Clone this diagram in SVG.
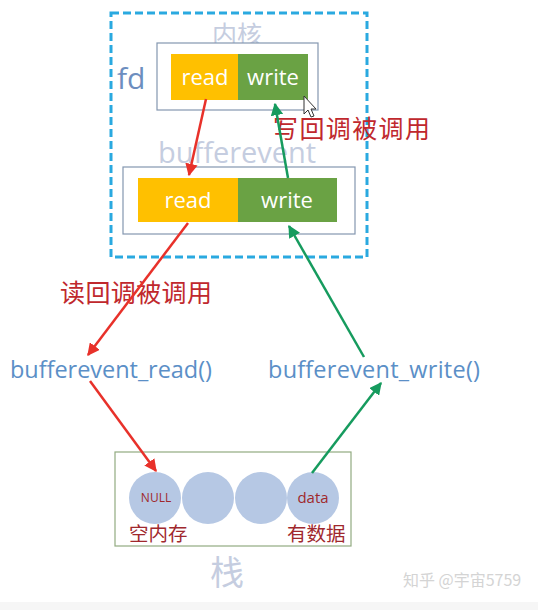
<svg xmlns="http://www.w3.org/2000/svg" width="538" height="610" viewBox="0 0 538 610">
<defs>
<marker id="ar" viewBox="0 0 10 10" refX="9" refY="5" markerWidth="5" markerHeight="5" orient="auto" markerUnits="strokeWidth"><path d="M0,0L10,5L0,10z" fill="#e8312a"/></marker>
<marker id="ag" viewBox="0 0 10 10" refX="9" refY="5" markerWidth="5" markerHeight="5" orient="auto" markerUnits="strokeWidth"><path d="M0,0L10,5L0,10z" fill="#169b5e"/></marker>
<style>
text{font-family:"Open Sans","Noto Sans","Noto Sans CJK SC",sans-serif}
.cjk{font-family:"Noto Sans CJK SC",sans-serif}
.box{fill:#ffffff;stroke:#8497b0;stroke-width:1.2}
.y{fill:#ffc000}
.g{fill:#6aa244}
.wt{fill:#ffffff;font-size:22px;text-anchor:middle}
.lbl{fill:#c5cde0}
.red{fill:#c0282d;font-size:25px}
.fn{fill:#5b8fc7;font-size:23.5px}
.r{stroke:#e8312a;stroke-width:2.5;fill:none;marker-end:url(#ar)}
.gr{stroke:#169b5e;stroke-width:2.5;fill:none;marker-end:url(#ag)}
.c{fill:#b6c8e4}
</style>
</defs>
<rect width="538" height="610" fill="#ffffff"/>
<rect x="0" y="602" width="538" height="8" fill="#f6f6f6"/>
<rect x="111" y="13" width="256" height="244" fill="none" stroke="#2aa9e0" stroke-width="3" stroke-dasharray="8,4"/>
<g id="kernel">
<text class="lbl cjk" x="237" y="44" font-size="25" text-anchor="middle">内核</text>
<text x="117" y="89" font-size="30" fill="#6d8ebf">fd</text>
<rect class="box" x="157" y="43" width="161" height="67"/>
<rect class="y" x="171" y="54" width="67" height="46"/>
<rect class="g" x="238" y="54" width="70" height="46"/>
<text class="wt" x="205" y="85">read</text>
<text class="wt" x="273" y="85">write</text>
<path d="M304,96 L304,114 L308,110 L311,117 L314,116 L311,109 L316,109 Z" fill="#ffffff" stroke="#333333" stroke-width="1"/>
</g>
<g id="bufferevent">
<text class="lbl" x="237" y="163" font-size="29" text-anchor="middle" textLength="158">bufferevent</text>
<rect class="box" x="123" y="167" width="232" height="67"/>
<rect class="y" x="138" y="178" width="100" height="44"/>
<rect class="g" x="238" y="178" width="99" height="44"/>
<text class="wt" x="188" y="208">read</text>
<text class="wt" x="287" y="208">write</text>
</g>
<g id="labels">
<text class="red cjk" x="273" y="138" textLength="157">写回调被调用</text>
<text class="red cjk" x="60" y="302" textLength="152">读回调被调用</text>
<text class="fn" x="10" y="378" textLength="202">bufferevent_read()</text>
<text class="fn" x="268" y="378" textLength="212">bufferevent_write()</text>
</g>
<g id="stack">
<rect x="115" y="452" width="236" height="94" fill="#ffffff" stroke="#92ab80" stroke-width="1.2"/>
<circle class="c" cx="155" cy="498" r="26"/>
<circle class="c" cx="208" cy="498" r="26"/>
<circle class="c" cx="261" cy="498" r="26"/>
<circle class="c" cx="313" cy="498" r="26"/>
<text x="156" y="502" font-size="12" fill="#a0282d" text-anchor="middle">NULL</text>
<text x="313" y="503" font-size="15" fill="#a0282d" text-anchor="middle">data</text>
<text class="cjk" x="129" y="541" font-size="19.5" fill="#a0282d">空内存</text>
<text class="cjk" x="287" y="541" font-size="19.5" fill="#a0282d">有数据</text>
<text class="cjk lbl" x="227" y="585" font-size="34" text-anchor="middle">栈</text>
</g>
<g id="connectors">
<line class="r" x1="206" y1="99" x2="189" y2="175"/>
<line class="gr" x1="288" y1="178" x2="275" y2="104"/>
<line class="r" x1="188" y1="223" x2="88" y2="355"/>
<line class="gr" x1="364" y1="357" x2="289" y2="226"/>
<line class="r" x1="90" y1="381" x2="156" y2="471"/>
<line class="gr" x1="312" y1="473" x2="381" y2="383"/>
</g>
<text class="cjk" x="403" y="586" font-size="16" fill="#d4d4d4">知乎 @宇宙5759</text>
</svg>
